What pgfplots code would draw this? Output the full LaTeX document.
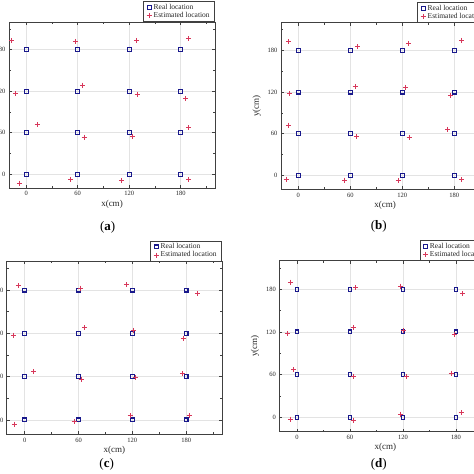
\documentclass[border=0pt]{standalone}
\usepackage{fontspec}
\setmainfont{Liberation Serif}
\usepackage{pgfplots}
\usepackage{pgfplotstable}
\pgfplotsset{compat=1.18}
\definecolor{realc}{RGB}{25,25,140}
\definecolor{estc}{RGB}{215,55,90}

\pgfplotstableread{
x y
0 0
60 0
120 0
180 0
0 60
60 60
120 60
180 60
0 120
60 120
120 120
180 120
0 180
60 180
120 180
180 180
}\realtab

\pgfplotstableread{
x y
-17.1 192.6
57.3 192.1
128.6 193.5
189.7 196.0
-12.1 116.6
65.8 128.7
129.4 115.6
185.8 108.9
12.9 71.1
67.4 53.7
124.3 54.7
189.7 67.3
-7.8 -13.1
52.2 -7.7
111.4 -9.2
189.7 -8.2
}\esta

\pgfplotstableread{
x y
-11.2 192.5
68.5 185.3
127.3 189.6
188.5 194.4
-10.0 117.3
65.4 127.9
124.2 126.9
175.4 114.4
-11.2 72.3
66.9 55.5
127.7 55.1
172.3 66.1
-14.2 -5.7
53.1 -6.7
115.4 -7.2
188.8 -6.2
}\estb

\pgfplotstableread{
x y
-7.1 186.4
62.4 182.7
113.3 187.4
192.4 175.3
-12.6 117.5
66.9 128.1
121.1 124.0
176.8 113.3
9.7 67.1
63.2 55.5
123.0 58.3
176.5 63.8
-11.5 -6.0
55.0 -2.8
117.4 6.0
183.2 6.0
}\estc

\pgfplotstableread{
x y
-7.5 189.8
65.7 181.9
117.0 184.2
187.5 173.9
-10.2 117.2
63.8 125.6
120.8 122.3
178.1 116.7
-3.8 66.6
64.2 57.7
124.2 57.7
174.7 62.3
-7.5 -2.3
64.2 -3.75
117.7 4.7
185.7 6.6
}\estd

\pgfplotsset{
 panel/.style={scale only axis, xmin=-20,xmax=220,ymin=-20,ymax=220,
  xtick={0,60,120,180}, ytick={0,60,120,180},
  minor xtick={30,90,150,210}, minor ytick={30,90,150,210},
  tick align=inside, major tick length=3pt, minor tick length=2pt,
  xmajorgrids, ymajorgrids, major grid style={gray!22, line width=0.5pt},
  axis line style={line width=0.8pt, black!75},
  every tick/.style={black!75, line width=0.6pt},
  tick label style={font=\fontsize{6.5}{7.5}\selectfont, text=black!85},
  /pgf/number format/assume math mode=true,
  label style={font=\fontsize{9}{10}\selectfont, text=black!85},
  xlabel={x(cm)}, ylabel={y(cm)},
  xlabel style={yshift=3pt},
  legend style={at={(1,1)}, anchor=south east, draw=black!75, line width=0.6pt,
    font=\fontsize{7.5}{8.5}\selectfont, text=black!85, cells={anchor=west},
    inner xsep=3pt, inner ysep=0.5pt, row sep=-2.5pt, legend cell align=left},
  anchor=south west,
 },
 real/.style={color=realc, only marks, mark=square, mark size=1.9pt, line width=1.1pt,
   mark options={solid, draw=realc, line width=1.1pt}},
 est/.style={color=estc, only marks, mark=+, mark size=2.5pt, line width=1pt,
   mark options={solid, draw=estc, line width=1pt}},
}

\begin{document}
\begin{tikzpicture}[x=1pt,y=1pt]
\path[use as bounding box] (0,0) rectangle (474,474);
\fill[white] (0,0) rectangle (474,474);
\clip (0,0) rectangle (474,474);

% (a)
\begin{axis}[panel, at={(9pt,286pt)}, width=206pt, height=166pt]
\addplot[real] table {\realtab};
\addplot[est] table {\esta};
\legend{Real location, Estimated location}
\end{axis}
% (b)
\begin{axis}[panel, at={(281pt,284.7pt)}, width=208pt, height=166.7pt]
\addplot[real] table {\realtab};
\addplot[est] table {\estb};
\legend{Real location, Estimated location}
\end{axis}
% (c)
\begin{axis}[panel, at={(6.8pt,39.7pt)}, width=215.2pt, height=173pt]
\addplot[real] table {\realtab};
\addplot[est] table {\estc};
\legend{Real location, Estimated location}
\end{axis}
% (d)
\begin{axis}[panel, at={(279.3pt,42.3pt)}, width=212pt, height=171pt]
\addplot[real] table {\realtab};
\addplot[est] table {\estd};
\legend{Real location, Estimated location}
\end{axis}

\node[font=\fontsize{13}{14}\selectfont] at (107.7,246.3) {(\textbf{a})};
\node[font=\fontsize{13}{14}\selectfont] at (378.7,247.3) {(\textbf{b})};
\node[font=\fontsize{13}{14}\selectfont] at (106.7,9.3) {(\textbf{c})};
\node[font=\fontsize{13}{14}\selectfont] at (378.7,9.3) {(\textbf{d})};
\end{tikzpicture}
\end{document}
